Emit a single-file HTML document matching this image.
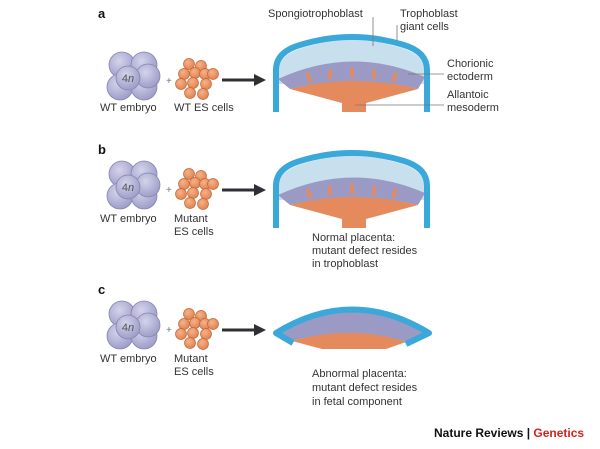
<!DOCTYPE html>
<html><head><style>
body{margin:0;background:#fff}
svg{display:block}
text{font-family:"Liberation Sans",sans-serif;font-size:11px;fill:#333}
</style></head><body>
<svg width="600" height="449" viewBox="0 0 600 449" xmlns="http://www.w3.org/2000/svg">
<defs>
<radialGradient id="lav" cx="40%" cy="35%" r="70%"><stop offset="0" stop-color="#d4d4ec"/><stop offset="1" stop-color="#9a9ac6"/></radialGradient>
<radialGradient id="org" cx="40%" cy="35%" r="70%"><stop offset="0" stop-color="#f6b28a"/><stop offset="1" stop-color="#e07f4c"/></radialGradient>
<g id="embryo">
<circle cx="-10" cy="-12" r="13" fill="url(#lav)" stroke="#8585b0" stroke-width="0.8"/>
<circle cx="12" cy="-12" r="13" fill="url(#lav)" stroke="#8585b0" stroke-width="0.8"/>
<circle cx="-12" cy="10" r="13" fill="url(#lav)" stroke="#8585b0" stroke-width="0.8"/>
<circle cx="12" cy="10" r="13" fill="url(#lav)" stroke="#8585b0" stroke-width="0.8"/>
<circle cx="16" cy="-1" r="12" fill="url(#lav)" stroke="#8585b0" stroke-width="0.8"/>
<circle cx="-4" cy="1" r="12" fill="url(#lav)" stroke="#8585b0" stroke-width="0.8"/>
<text x="-4" y="5" text-anchor="middle" style="font-size:11px;fill:#555"><tspan>4</tspan><tspan font-style="italic">n</tspan></text>
</g>
<g id="cells" fill="url(#org)" stroke="#c0693a" stroke-width="0.7">
<circle cx="-8" cy="-14" r="5.5"/><circle cx="4" cy="-12" r="5.5"/>
<circle cx="-2" cy="-5" r="5.5"/><circle cx="8" cy="-4" r="5.5"/><circle cx="-13" cy="-4" r="5.5"/>
<circle cx="16" cy="-4" r="5.5"/>
<circle cx="-16" cy="6" r="5.5"/><circle cx="-4" cy="5" r="5.5"/><circle cx="9" cy="6" r="5.5"/>
<circle cx="-7" cy="15" r="5.5"/><circle cx="6" cy="16" r="5.5"/>
</g>
<g id="arrow"><line x1="0" y1="0" x2="36" y2="0" stroke="#2f2f35" stroke-width="3"/><path d="M32,-6 L44,0 L32,6 Z" fill="#2f2f35"/></g>
<g id="placenta">
<path d="M279,84 V70 Q279,55 302,48 Q352,32 402,48 Q424,55 424,70 V84 Z" fill="#c8e0ee"/>
<path d="M278,79 Q352,45 425,77 L418,89 Q352,74 290,89 Z" fill="#9a9ac4"/>
<path d="M290,89 Q352,73 418,89 L366,103 V112 H342 V103 Z" fill="#e58a5c"/>
<g stroke="#e58a5c" stroke-width="3.5">
<line x1="311" y1="82" x2="307" y2="73"/><line x1="330" y1="79" x2="330" y2="70"/><line x1="352" y1="78" x2="352" y2="68"/><line x1="374" y1="79" x2="374" y2="70"/><line x1="393" y1="82" x2="396" y2="73"/>
</g>
<path d="M276,112 V70 Q276,52 300,45 Q352,29 404,45 Q427,52 427,70 V112" fill="none" stroke="#3aa8d8" stroke-width="6"/>
</g>
</defs>

<text x="98" y="18" style="font-weight:bold;font-size:13px;fill:#111">a</text>
<use href="#embryo" x="132" y="77"/>
<text x="166" y="84" style="font-size:10px;fill:#777">+</text>
<use href="#cells" x="197" y="78"/>
<use href="#arrow" x="222" y="80"/>
<text x="100" y="111">WT embryo</text>
<text x="174" y="111">WT ES cells</text>
<use href="#placenta"/>
<text x="268" y="17">Spongiotrophoblast</text>
<text x="400" y="17">Trophoblast</text>
<text x="400" y="30">giant cells</text>
<text x="447" y="67">Chorionic</text>
<text x="447" y="80">ectoderm</text>
<text x="447" y="98">Allantoic</text>
<text x="447" y="111">mesoderm</text>
<g stroke="#777" stroke-width="0.8">
<line x1="373" y1="17" x2="373" y2="46"/>
<line x1="397" y1="25" x2="397" y2="41"/>
<line x1="408" y1="74" x2="444" y2="74"/>
<line x1="355" y1="105" x2="444" y2="105"/>
</g>

<text x="98" y="154" style="font-weight:bold;font-size:13px;fill:#111">b</text>
<use href="#embryo" x="132" y="186"/>
<text x="166" y="193" style="font-size:10px;fill:#777">+</text>
<use href="#cells" x="197" y="188"/>
<use href="#arrow" x="222" y="190"/>
<text x="100" y="222">WT embryo</text>
<text x="174" y="222">Mutant</text>
<text x="174" y="235">ES cells</text>
<use href="#placenta" x="0" y="116"/>
<text x="312" y="241">Normal placenta:</text>
<text x="312" y="254">mutant defect resides</text>
<text x="312" y="267">in trophoblast</text>

<text x="98" y="294" style="font-weight:bold;font-size:13px;fill:#111">c</text>
<use href="#embryo" x="132" y="326"/>
<text x="166" y="333" style="font-size:10px;fill:#777">+</text>
<use href="#cells" x="197" y="328"/>
<use href="#arrow" x="222" y="330"/>
<text x="100" y="362">WT embryo</text>
<text x="174" y="362">Mutant</text>
<text x="174" y="375">ES cells</text>
<path d="M276,332 Q352,286 429,332 L406,342 Q352,325 292,341 Z" fill="#9a9ac4"/>
<path d="M292,341 Q352,324 406,342 L386,349 H322 Z" fill="#e58a5c"/>
<path d="M293,343 L276,333 Q352,286 429,333 L406,344" fill="none" stroke="#3aa8d8" stroke-width="6" stroke-linejoin="round"/>
<text x="312" y="377">Abnormal placenta:</text>
<text x="312" y="391">mutant defect resides</text>
<text x="312" y="405">in fetal component</text>

<text x="434" y="437" style="font-weight:bold;font-size:12px;fill:#111">Nature Reviews | <tspan fill="#d2231e">Genetics</tspan></text>
</svg>
</body></html>
